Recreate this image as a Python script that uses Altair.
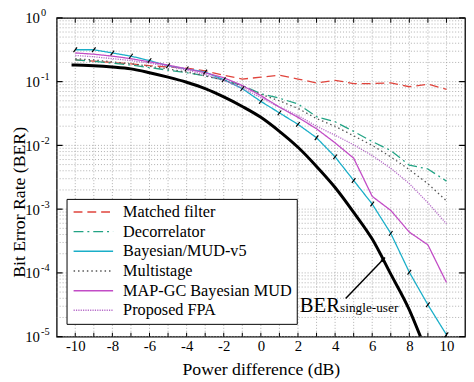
import altair as alt
import pandas as pd

FONT = "Liberation Serif"

# ---- data (log10 of BER) ----
x_vals = list(range(-10, 11))
series_names = ["Matched filter", "Decorrelator", "Bayesian/MUD-v5",
                "Multistage", "MAP-GC Bayesian MUD", "Proposed FPA"]
matched_log = [-0.66, -0.68, -0.70, -0.72, -0.75, -0.77, -0.79, -0.83, -0.90, -0.96, -0.93,
               -0.90, -0.96, -1.02, -0.98, -1.03, -1.03, -1.02, -1.08, -1.04, -1.12]
decorr_log = [-0.66, -0.68, -0.71, -0.74, -0.78, -0.82, -0.86, -0.91, -0.97, -1.06, -1.19,
              -1.26, -1.35, -1.55, -1.63, -1.78, -1.94, -2.08, -2.31, -2.37, -2.56]
bayes_log = [-0.50, -0.50, -0.55, -0.60, -0.67, -0.75, -0.80, -0.85, -0.97, -1.11, -1.31,
             -1.49, -1.67, -1.88, -2.18, -2.55, -2.92, -3.38, -3.99, -4.50, -4.97]
multi_log = [-0.64, -0.66, -0.69, -0.72, -0.76, -0.80, -0.85, -0.91, -0.98, -1.07, -1.20,
             -1.30, -1.42, -1.58, -1.70, -1.85, -2.00, -2.18, -2.38, -2.60, -2.87]
mapgc_log = [-0.55, -0.57, -0.60, -0.64, -0.69, -0.74, -0.80, -0.86, -0.94, -1.06, -1.22,
             -1.40, -1.56, -1.74, -1.96, -2.20, -2.80, -3.02, -3.36, -3.56, -4.15]
fpa_log = [-0.59, -0.61, -0.64, -0.67, -0.71, -0.76, -0.82, -0.89, -0.98, -1.10, -1.25,
           -1.40, -1.53, -1.70, -1.84, -1.99, -2.16, -2.36, -2.60, -2.90, -3.23]

single_x = [-10.2, -10, -9, -8, -7, -6, -5, -4, -3, -2, -1, 0, 1, 2, 3, 4, 5, 6, 7, 8, 8.6]
single_log = [-0.74, -0.74, -0.75, -0.77, -0.80, -0.86, -0.93, -1.01, -1.11, -1.24, -1.39,
              -1.56, -1.78, -2.03, -2.33, -2.66, -3.05, -3.47, -4.02, -4.58, -5.0]

colors = ["#e0443c", "#22a384", "#1aaec8", "#555555", "#c24cc6", "#b56ac8"]
dashes = [[9, 5], [10, 4, 2, 4], [1, 0], [1.5, 3], [1, 0], [1.2, 1.2]]

decades = [1, 0.1, 0.01, 0.001, 0.0001, 0.00001]
decade_exps = ["0", "-1", "-2", "-3", "-4", "-5"]
x_label_vals = [-10, -8, -6, -4, -2, 0, 2, 4, 6, 8, 10]
tick_x = list(range(-10, 11))
grid_x = list(range(-10, 11))
mantissas = [1, 2, 3, 4, 5, 6, 7, 8, 9]
grid_y = [m * 10.0 ** e for e in range(-5, 0) for m in mantissas] + [1.0]

arrow_tail = (4.57, -4.40)
arrow_head = (6.69, -3.76)
ber_text_pos = (2.10, -4.606)
sub_text_pos = (4.27, -4.606)

# ---- tables ----
all_logs = [matched_log, decorr_log, bayes_log, multi_log, mapgc_log, fpa_log]
rows = []
for name, vals in zip(series_names, all_logs):
    for xv, lv in zip(x_vals, vals):
        rows.append({"x": xv, "ber": 10 ** lv, "series": name})
df = pd.DataFrame(rows)
bayes_df = pd.DataFrame({"x": x_vals, "ber": [10 ** v for v in bayes_log]})
single_df = pd.DataFrame({"x": single_x, "ber": [10 ** v for v in single_log]})

xs = alt.Scale(domain=[-11, 11], nice=False, zero=False)
ys = alt.Scale(type="log", domain=[1e-5, 1], nice=False)

W, H = 415, 324

x_axis = alt.Axis(
    values=x_label_vals, title="Power difference (dB)", grid=False, ticks=False, tickSize=0,
    domain=False, labelFont=FONT, labelFontSize=15, labelColor="black", labelPadding=2,
    labelExpr="datum.value < 0 ? '-' + abs(datum.value) : '' + datum.value",
    titleFont=FONT, titleFontSize=18, titleFontWeight="normal", titleColor="black",
    titlePadding=7)
y_axis = alt.Axis(
    values=decades, title="Bit Error Rate (BER)", grid=False, ticks=False, tickSize=0,
    domain=False, labelFont=FONT, labelFontSize=15, labelColor="black", labelPadding=17.5,
    labelExpr="'10'", labelBaseline="middle",
    titleFont=FONT, titleFontSize=18, titleFontWeight="normal", titleColor="black",
    titleX=-29, titleY=187)

X = lambda f: alt.X(f, scale=xs, axis=x_axis)
Y = lambda f: alt.Y(f, scale=ys, axis=y_axis)

gx = alt.Chart(pd.DataFrame({"x": grid_x})).mark_rule(
    color="#9a9a9a", strokeWidth=0.8, strokeDash=[1, 2]).encode(x=X("x:Q"))
gy = alt.Chart(pd.DataFrame({"ber": grid_y})).mark_rule(
    color="#9a9a9a", strokeWidth=0.8, strokeDash=[1, 2]).encode(y=Y("ber:Q"))

legend_kw = dict(
    title=None, orient="none", legendX=10, legendY=184,
    fillColor="white", strokeColor="black", padding=5,
    labelFont=FONT, labelFontSize=16.5, labelColor="black",
    labelLimit=400, labelOffset=22, symbolOffset=14,
    symbolType="M-4.8,0H4.8", symbolSize=70, symbolStrokeWidth=1.5,
    rowPadding=3, cornerRadius=0)

lines = alt.Chart(df).mark_line(strokeWidth=1.3, clip=True).encode(
    x=X("x:Q"), y=Y("ber:Q"),
    color=alt.Color("series:N", scale=alt.Scale(domain=series_names, range=colors),
                    legend=alt.Legend(**legend_kw)),
    strokeDash=alt.StrokeDash("series:N", scale=alt.Scale(domain=series_names, range=dashes),
                              legend=alt.Legend(**legend_kw)),
)

markers = alt.Chart(bayes_df).mark_point(
    shape="M-0.6,0.8L0.6,-0.8", size=36, filled=False, stroke="black",
    strokeWidth=1.2, opacity=1).encode(x=X("x:Q"), y=Y("ber:Q"))

single = alt.Chart(single_df).mark_line(
    color="black", strokeWidth=3, interpolate="monotone", clip=True).encode(
    x=X("x:Q"), y=Y("ber:Q"))

arrow_df = pd.DataFrame({"x": [arrow_tail[0]], "x2": [arrow_head[0]],
                         "ber": [10 ** arrow_tail[1]], "ber2": [10 ** arrow_head[1]]})
arrow = alt.Chart(arrow_df).mark_rule(color="black", strokeWidth=1.5).encode(
    x=X("x:Q"), x2="x2:Q", y=Y("ber:Q"), y2="ber2:Q")
head = alt.Chart(pd.DataFrame({"x": [arrow_head[0]], "ber": [10 ** arrow_head[1]]})).mark_point(
    shape="M0,0L-0.5,1.6L0.5,1.6Z", size=40, filled=True, color="black", opacity=1,
    angle=44).encode(x=X("x:Q"), y=Y("ber:Q"))

ber_txt = alt.Chart(pd.DataFrame({"x": [ber_text_pos[0]], "ber": [10 ** ber_text_pos[1]],
                                  "t": ["BER"]})).mark_text(
    align="left", baseline="alphabetic", font=FONT, fontSize=21, color="black").encode(
    x=X("x:Q"), y=Y("ber:Q"), text="t:N")
sub_txt = alt.Chart(pd.DataFrame({"x": [sub_text_pos[0]], "ber": [10 ** sub_text_pos[1]],
                                  "t": ["single-user"]})).mark_text(
    align="left", baseline="alphabetic", font=FONT, fontSize=13.5, color="black").encode(
    x=X("x:Q"), y=Y("ber:Q"), text="t:N")

exp_txt = alt.Chart(pd.DataFrame({"ber": decades, "e": decade_exps})).mark_text(
    align="left", baseline="middle", font=FONT, fontSize=10.5, color="black", dy=-4.5).encode(
    y=Y("ber:Q"), x=alt.value(-16), text="e:N")

tick_df = pd.DataFrame({"x": tick_x})
top_ticks = alt.Chart(tick_df).mark_rule(color="black", strokeWidth=1).encode(
    x=X("x:Q"), y=alt.value(0), y2=alt.value(5))
bot_ticks = alt.Chart(tick_df).mark_rule(color="black", strokeWidth=1).encode(
    x=X("x:Q"), y=alt.value(H), y2=alt.value(H - 4))
dec_df = pd.DataFrame({"ber": decades})
left_ticks = alt.Chart(dec_df).mark_rule(color="black", strokeWidth=1.2).encode(
    y=Y("ber:Q"), x=alt.value(0), x2=alt.value(6))
right_ticks = alt.Chart(dec_df).mark_rule(color="black", strokeWidth=1.2).encode(
    y=Y("ber:Q"), x=alt.value(W), x2=alt.value(W - 6))

chart = alt.layer(
    gx, gy, lines, markers, single, arrow, head, ber_txt, sub_txt, exp_txt,
    top_ticks, bot_ticks, left_ticks, right_ticks
).properties(
    width=W, height=H,
    autosize=alt.AutoSizeParams(type="none"),
    padding={"left": 49.5, "top": 7, "right": 1, "bottom": 40},
    background="white",
).configure(
    font=FONT,
    style={
        "guide-label": {"font": FONT, "fontSize": 15, "fill": "black"},
        "guide-title": {"font": FONT, "fontSize": 18, "fontWeight": "normal", "fill": "black"},
    },
).configure_view(stroke="black", strokeWidth=1.3).configure_axis(
    labelFont=FONT, titleFont=FONT, labelFontSize=15, titleFontSize=18,
    titleFontWeight="normal", labelColor="black", titleColor="black"
)

chart.save("out.html", embed_options={"renderer": "svg", "actions": False})
